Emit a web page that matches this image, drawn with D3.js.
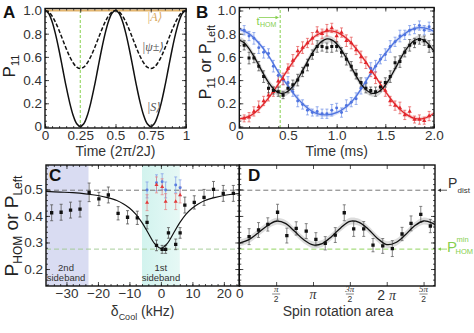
<!DOCTYPE html>
<html><head><meta charset="utf-8">
<script src="https://cdn.jsdelivr.net/npm/d3@7"></script>
<style>
body{margin:0;background:#fff}
svg{display:block}
</style>
</head><body>
<svg id="c" width="474" height="333"></svg>
<script>
// ================= DATA =================
// Panel A : theory curves vs time (2π/2J)
const aTime = [0,0.025,0.05,0.075,0.1,0.125,0.15,0.175,0.2,0.225,0.25,0.275,0.3,0.325,0.35,0.375,0.4,0.425,0.45,0.475,0.5,0.525,0.55,0.575,0.6,0.625,0.65,0.675,0.7,0.725,0.75,0.775,0.8,0.825,0.85,0.875,0.9,0.925,0.95,0.975,1];
const aSinglet = [1,0.976,0.905,0.794,0.655,0.5,0.345,0.206,0.095,0.024,0,0.024,0.095,0.206,0.345,0.5,0.655,0.794,0.905,0.976,1,0.976,0.905,0.794,0.655,0.5,0.345,0.206,0.095,0.024,0,0.024,0.095,0.206,0.345,0.5,0.655,0.794,0.905,0.976,1];
const aPsi = [1,0.988,0.952,0.897,0.827,0.75,0.673,0.603,0.548,0.512,0.5,0.512,0.548,0.603,0.673,0.75,0.827,0.897,0.952,0.988,1,0.988,0.952,0.897,0.827,0.75,0.673,0.603,0.548,0.512,0.5,0.512,0.548,0.603,0.673,0.75,0.827,0.897,0.952,0.988,1];
const aAntiTime = [0,1];
const aAnti = [1,1];
const aMarkTime = 0.25;
const aXTicks = [0,0.25,0.5,0.75,1], aXLabels = ["0","0.25","0.5","0.75","1"];
const aYTicks = [0,0.2,0.4,0.6,0.8,1], aYLabels = ["0","0.2","0.4","0.6","0.8","1.0"];

// Panel B : measured P11 (black), PLeft (red, blue) vs time (ms)
const bTime = [0.05,0.1,0.15,0.2,0.25,0.3,0.35,0.4,0.45,0.5,0.55,0.6,0.65,0.7,0.75,0.8,0.85,0.9,0.95,1.0,1.05,1.1,1.15,1.2,1.25,1.3,1.35,1.4,1.45,1.5,1.55,1.6,1.65,1.7,1.75,1.8,1.85,1.9,1.95];
const bBlack = [0.70,0.59,0.59,0.52,0.43,0.33,0.31,0.30,0.27,0.33,0.36,0.40,0.47,0.53,0.62,0.69,0.69,0.68,0.69,0.69,0.64,0.58,0.52,0.45,0.38,0.33,0.31,0.30,0.34,0.38,0.43,0.55,0.56,0.64,0.70,0.72,0.75,0.74,0.69];
const bRed   = [0.07,0.08,0.13,0.17,0.22,0.27,0.30,0.39,0.41,0.50,0.57,0.65,0.68,0.72,0.76,0.82,0.80,0.83,0.85,0.78,0.81,0.74,0.72,0.66,0.60,0.55,0.47,0.42,0.35,0.31,0.22,0.18,0.16,0.10,0.13,0.06,0.06,0.05,0.09];
const bBlue  = [0.83,0.78,0.76,0.68,0.64,0.63,0.52,0.44,0.40,0.38,0.30,0.22,0.19,0.14,0.12,0.13,0.11,0.11,0.14,0.16,0.12,0.18,0.21,0.24,0.33,0.38,0.50,0.52,0.58,0.62,0.69,0.73,0.78,0.79,0.83,0.84,0.87,0.83,0.86];
const bBlackErr = [0.04,0.05,0.04,0.04,0.05,0.04,0.03,0.04,0.03,0.04,0.04,0.05,0.04,0.05,0.04,0.05,0.04,0.04,0.05,0.04,0.04,0.05,0.04,0.04,0.04,0.04,0.03,0.04,0.04,0.04,0.05,0.05,0.05,0.04,0.05,0.04,0.04,0.04,0.05];
const bRedErr   = [0.03,0.04,0.04,0.05,0.04,0.05,0.04,0.05,0.05,0.04,0.05,0.04,0.05,0.04,0.05,0.04,0.04,0.05,0.04,0.05,0.04,0.05,0.05,0.04,0.05,0.05,0.04,0.05,0.04,0.05,0.04,0.04,0.05,0.04,0.04,0.03,0.04,0.03,0.04];
const bBlueErr  = [0.04,0.04,0.05,0.05,0.05,0.04,0.05,0.05,0.04,0.05,0.04,0.05,0.04,0.04,0.03,0.04,0.04,0.04,0.05,0.04,0.04,0.05,0.04,0.05,0.05,0.04,0.05,0.05,0.04,0.05,0.05,0.04,0.05,0.04,0.04,0.04,0.04,0.04,0.04];
const bFitTimeBlack = [0,0.05,0.1,0.15,0.2,0.25,0.3,0.35,0.4,0.45,0.5,0.55,0.6,0.65,0.7,0.75,0.8,0.85,0.9,0.95,1.0,1.05,1.1,1.15,1.2,1.25,1.3,1.35,1.4,1.45,1.5,1.55,1.6,1.65,1.7,1.75,1.8,1.85,1.9,1.95,2.0];
const bFitBlack = [0.745,0.722,0.671,0.604,0.528,0.45,0.38,0.326,0.293,0.285,0.304,0.346,0.407,0.481,0.559,0.633,0.694,0.736,0.755,0.747,0.714,0.659,0.59,0.512,0.436,0.368,0.318,0.29,0.287,0.31,0.357,0.421,0.497,0.575,0.647,0.704,0.742,0.755,0.742,0.704,0.647];
const bFitTime = [0,0.1,0.2,0.3,0.4,0.5,0.6,0.7,0.8,0.9,1.0,1.1,1.2,1.3,1.4,1.5,1.6,1.7,1.8,1.9,2.0];
const bFitRed  = [0.065,0.087,0.149,0.246,0.365,0.493,0.616,0.719,0.791,0.823,0.813,0.760,0.671,0.556,0.429,0.303,0.193,0.113,0.070,0.070,0.114];
const bFitBlue = [0.84,0.80,0.72,0.61,0.47,0.35,0.24,0.16,0.11,0.10,0.12,0.17,0.26,0.39,0.52,0.63,0.73,0.80,0.845,0.85,0.82];
const bBandHalf = [0.03, 0.018, 0.018]; // black, red, blue confidence band half-widths
const bTHom = 0.42;
const bXTicks = [0,0.5,1,1.5,2], bXLabels = ["0","0.5","1.0","1.5","2.0"];

// Panel C : P_HOM (black) and P_Left (red/blue) vs δCool (kHz)
const cDet = [-34.7,-31.7,-28.7,-25.7,-22.8,-19.7,-16.7,-13.6,-10.6,-7.5,-4.4,-1.4,0.4,1.5,2.4,4.7,6.1,7.6,10.6,13.7,16.7,19.8,23];
const cBlack = [0.412,0.414,0.422,0.426,0.489,0.464,0.479,0.410,0.395,0.393,0.376,0.289,0.274,0.274,0.336,0.293,0.336,0.441,0.451,0.470,0.500,0.485,0.485];
const cBlackErr = [0.03,0.03,0.03,0.03,0.035,0.025,0.03,0.025,0.025,0.025,0.025,0.02,0.015,0.015,0.02,0.02,0.02,0.03,0.025,0.03,0.03,0.03,0.03];
const cDetRB = [-4.4,-1.4,0.4,1.5,4.7,6.1];
const cBlue = [0.498,0.525,0.529,0.498,0.517,0.506];
const cRed  = [0.450,0.517,0.510,0.454,0.454,0.479];
const cRBErr = [0.03,0.03,0.03,0.03,0.03,0.03];
const cFitDet = [-36.5,-32,-28,-24,-20,-17,-14,-12,-10,-8,-6,-4,-2,0,2,4,6,8,10,12,14,17,20,24.9];
const cFit = [0.4926,0.490,0.4876,0.4835,0.477,0.469,0.458,0.446,0.430,0.407,0.375,0.335,0.296,0.278,0.296,0.335,0.375,0.407,0.430,0.446,0.458,0.469,0.477,0.4845];
const cPdist = 0.497, cPhomMin = 0.275;
const cSideband2 = [-36.5,-23], cSideband1 = [-6,6];
const cXTicks = [-30,-20,-10,0,10,20], cXLabels = ["\u221230","\u221220","\u221210","0","10","20"];
const cYTicks = [0.2,0.3,0.4,0.5], cYLabels = ["0.2","0.3","0.4","0.5"];

// Panel D : P_HOM vs spin rotation area (units of π)
const dArea = [0.133,0.261,0.387,0.519,0.645,0.772,0.908,1.039,1.166,1.302,1.424,1.552,1.688,1.814,1.946,2.076,2.208,2.33,2.462,2.592];
const dVal  = [0.322,0.347,0.368,0.414,0.326,0.353,0.343,0.312,0.297,0.328,0.412,0.351,0.351,0.290,0.287,0.277,0.332,0.372,0.406,0.362];
const dErr  = [0.030,0.028,0.025,0.030,0.028,0.025,0.028,0.025,0.025,0.028,0.030,0.028,0.028,0.025,0.028,0.030,0.025,0.028,0.030,0.025];
const dFitArea = [0,0.125,0.25,0.375,0.5,0.625,0.75,0.875,1.0,1.125,1.25,1.375,1.5,1.625,1.75,1.875,2.0,2.125,2.25,2.375,2.5,2.625,2.655];
const dFit = [0.298,0.310,0.335,0.362,0.380,0.372,0.342,0.310,0.291,0.296,0.322,0.355,0.380,0.376,0.350,0.315,0.292,0.300,0.328,0.362,0.381,0.372,0.367];
const dBandHalf = 0.013;
const dXTicks = [0,0.5,1,1.5,2,2.5];

// ================= DRAWING =================
const FONT = '"Liberation Sans", Arial, Helvetica, sans-serif';
const SERIF = '"Liberation Serif","DejaVu Serif",serif';
const GREEN = "#86cf4e";
const TICKFS = 13.5;
const svg = d3.select("#c");
const defs = svg.append("defs");

function clip(id, x, y){
  const [x0,x1]=x.range(), [y0,y1]=y.range();
  defs.append("clipPath").attr("id",id).append("rect").attr("x",x0).attr("y",y1).attr("width",x1-x0).attr("height",y0-y1);
  return `url(#${id})`;
}

function axes(g, x, y, o){
  const [x0,x1]=x.range(), [y0,y1]=y.range();
  const style = sel => { sel.selectAll(".domain").remove();
    sel.selectAll(".tick line").attr("stroke","#222").attr("stroke-width",0.8);
    sel.selectAll(".tick text").attr("font-size",TICKFS).attr("fill","#333").attr("font-family",FONT);
    sel.attr("font-family",FONT); };
  g.append("g").attr("transform",`translate(0,${y0})`)
    .call(d3.axisBottom(x).tickValues(o.xMaj).tickFormat((d,i)=>o.xLab?o.xLab[i]:"").tickSizeInner(-4).tickSizeOuter(0).tickPadding(2)).call(style);
  g.append("g").attr("transform",`translate(0,${y1})`)
    .call(d3.axisTop(x).tickValues(o.xMaj).tickFormat("").tickSizeInner(-4).tickSizeOuter(0)).call(style);
  if(o.xMin){
    g.append("g").attr("transform",`translate(0,${y0})`).call(d3.axisBottom(x).tickValues(o.xMin).tickFormat("").tickSizeInner(-2).tickSizeOuter(0)).call(style);
    g.append("g").attr("transform",`translate(0,${y1})`).call(d3.axisTop(x).tickValues(o.xMin).tickFormat("").tickSizeInner(-2).tickSizeOuter(0)).call(style);
  }
  g.append("g").attr("transform",`translate(${x0},0)`)
    .call(d3.axisLeft(y).tickValues(o.yMaj).tickFormat((d,i)=>o.yLab?o.yLab[i]:"").tickSizeInner(-4).tickSizeOuter(0).tickPadding(3)).call(style);
  g.append("g").attr("transform",`translate(${x1},0)`)
    .call(d3.axisRight(y).tickValues(o.yMaj).tickFormat("").tickSizeInner(-4).tickSizeOuter(0)).call(style);
  if(o.yMin){
    g.append("g").attr("transform",`translate(${x0},0)`).call(d3.axisLeft(y).tickValues(o.yMin).tickFormat("").tickSizeInner(-2).tickSizeOuter(0)).call(style);
    g.append("g").attr("transform",`translate(${x1},0)`).call(d3.axisRight(y).tickValues(o.yMin).tickFormat("").tickSizeInner(-2).tickSizeOuter(0)).call(style);
  }
}
function frame(g, x, y){
  const [x0,x1]=x.range(), [y0,y1]=y.range();
  g.append("rect").attr("x",x0).attr("y",y1).attr("width",x1-x0).attr("height",y0-y1)
    .attr("fill","none").attr("stroke","#111").attr("stroke-width",1.4);
}
function errorBars(g, xs, ys, es, x, y, color, w){
  const idx = d3.range(xs.length);
  const eg = g.append("g").attr("stroke",color).attr("stroke-width",w||0.8);
  eg.selectAll("line.v").data(idx).join("line").attr("class","v")
    .attr("x1",i=>x(xs[i])).attr("x2",i=>x(xs[i])).attr("y1",i=>y(ys[i]+es[i])).attr("y2",i=>y(ys[i]-es[i]));
  eg.selectAll("line.t").data(idx).join("line").attr("class","t")
    .attr("x1",i=>x(xs[i])-1.5).attr("x2",i=>x(xs[i])+1.5).attr("y1",i=>y(ys[i]+es[i])).attr("y2",i=>y(ys[i]+es[i]));
  eg.selectAll("line.b").data(idx).join("line").attr("class","b")
    .attr("x1",i=>x(xs[i])-1.5).attr("x2",i=>x(xs[i])+1.5).attr("y1",i=>y(ys[i]-es[i])).attr("y2",i=>y(ys[i]-es[i]));
}
function markers(g, xs, ys, x, y, type, size, color){
  g.append("g").selectAll("path").data(d3.range(xs.length)).join("path")
    .attr("d", d3.symbol(type, size)).attr("fill",color)
    .attr("transform", i=>`translate(${x(xs[i])},${y(ys[i])})`);
}
function lineXY(xs, ys, x, y, curve){
  return d3.line().x(i=>x(xs[i])).y(i=>y(ys[i])).curve(curve||d3.curveCatmullRom)(d3.range(xs.length));
}
function bandXY(xs, ys, h, x, y){
  return d3.area().x(i=>x(xs[i])).y0(i=>y(ys[i]-h)).y1(i=>y(ys[i]+h)).curve(d3.curveCatmullRom)(d3.range(xs.length));
}
function panelLetter(t, px, py){
  svg.append("text").attr("x",px).attr("y",py).text(t).attr("font-family",FONT)
    .attr("font-weight","bold").attr("font-size",17).attr("fill","#111");
}
function ylab(px, py, parts){
  const t = svg.append("text").attr("transform",`translate(${px},${py}) rotate(-90)`)
    .attr("text-anchor","middle").attr("font-family",FONT).attr("fill","#222");
  parts.forEach(p=>{ t.append("tspan").text(p[0]).attr("font-size",p[1]).attr("dy",p[2]||0); });
  return t;
}

// ---------- Panel A ----------
{
  const x = d3.scaleLinear().domain([0,1]).range([45,186]);
  const y = d3.scaleLinear().domain([-0.013,1.017]).range([128,8.5]);
  const g = svg.append("g");
  const cp = clip("clipA", x, y);
  const pg = g.append("g").attr("clip-path",cp);
  pg.append("line").attr("x1",x(aMarkTime)).attr("x2",x(aMarkTime)).attr("y1",y.range()[0]).attr("y2",y.range()[1])
    .attr("stroke",GREEN).attr("stroke-width",1).attr("stroke-dasharray","3,2");
  pg.append("path").attr("d",lineXY(aAntiTime,aAnti,x,y,d3.curveLinear)).attr("fill","none").attr("stroke","#e3b56e").attr("stroke-width",2);
  pg.append("path").attr("d",lineXY(aTime,aPsi,x,y)).attr("fill","none").attr("stroke","#111").attr("stroke-width",1.5).attr("stroke-dasharray","4,2");
  pg.append("path").attr("d",lineXY(aTime,aSinglet,x,y)).attr("fill","none").attr("stroke","#111").attr("stroke-width",1.5);
  axes(g, x, y, {xMaj:aXTicks, xLab:aXLabels, xMin:d3.range(0,1.001,0.05), yMaj:aYTicks, yLab:aYLabels, yMin:d3.range(0,1.001,0.05)});
  frame(g, x, y);
  g.append("text").attr("x",147).attr("y",21).text("|A\u27E9").attr("font-family",SERIF).attr("font-style","italic").attr("font-size",12).attr("fill","#d8a860");
  g.append("text").attr("x",142).attr("y",51).text("|\u03C8\u00B1\u27E9").attr("font-family",SERIF).attr("font-style","italic").attr("font-size",12).attr("fill","#555");
  g.append("text").attr("x",147).attr("y",111).text("|S\u27E9").attr("font-family",SERIF).attr("font-style","italic").attr("font-size",12).attr("fill","#555");
  g.append("text").attr("x",(x.range()[0]+x.range()[1])/2).attr("y",156).attr("text-anchor","middle")
    .attr("font-family",FONT).attr("font-size",14).attr("fill","#333").text("Time (2\u03C0/2J)");
  ylab(15, 66, [["P",17],["11",11,4]]);
  panelLetter("A", 3, 18);
}

// ---------- Panel B ----------
{
  const x = d3.scaleLinear().domain([0,2]).range([239.3,434]);
  const y = d3.scaleLinear().domain([-0.013,1.026]).range([128,7.5]);
  const g = svg.append("g");
  const cp = clip("clipB", x, y);
  const pg = g.append("g").attr("clip-path",cp);
  pg.append("path").attr("d",bandXY(bFitTime,bFitRed,bBandHalf[1],x,y)).attr("fill","#f2b7b7").attr("opacity",0.6);
  pg.append("path").attr("d",bandXY(bFitTime,bFitBlue,bBandHalf[2],x,y)).attr("fill","#b9c7f2").attr("opacity",0.6);
  pg.append("path").attr("d",bandXY(bFitTimeBlack,bFitBlack,bBandHalf[0],x,y)).attr("fill","#d4d4d4").attr("opacity",0.9);
  pg.append("line").attr("x1",x(bTHom)).attr("x2",x(bTHom)).attr("y1",y.range()[0]).attr("y2",y.range()[1])
    .attr("stroke",GREEN).attr("stroke-width",1).attr("stroke-dasharray","3,2");
  errorBars(pg, bTime, bBlue, bBlueErr, x, y, "#6f8fe6", 0.7);
  errorBars(pg, bTime, bRed, bRedErr, x, y, "#e55050", 0.7);
  errorBars(pg, bTime, bBlack, bBlackErr, x, y, "#444", 0.7);
  pg.append("path").attr("d",lineXY(bFitTime,bFitBlue,x,y)).attr("fill","none").attr("stroke","#4f74e0").attr("stroke-width",1.3);
  pg.append("path").attr("d",lineXY(bFitTime,bFitRed,x,y)).attr("fill","none").attr("stroke","#e2262b").attr("stroke-width",1.3);
  pg.append("path").attr("d",lineXY(bFitTimeBlack,bFitBlack,x,y)).attr("fill","none").attr("stroke","#111").attr("stroke-width",1.3);
  markers(pg, bTime, bBlue, x, y, d3.symbolCircle, 7, "#4f74e0");
  markers(pg, bTime, bRed, x, y, d3.symbolTriangle, 8, "#e2262b");
  markers(pg, bTime, bBlack, x, y, d3.symbolSquare, 9, "#111");
  axes(g, x, y, {xMaj:bXTicks, xLab:bXLabels, xMin:d3.range(0,2.001,0.1), yMaj:aYTicks, yLab:aYLabels, yMin:d3.range(0,1.001,0.05)});
  frame(g, x, y);
  // t_HOM annotation
  g.append("text").attr("x",256.5).attr("y",25).text("t").attr("font-family",FONT).attr("font-size",11).attr("fill",GREEN);
  g.append("text").attr("x",260).attr("y",27).text("HOM").attr("font-family",FONT).attr("font-size",7).attr("fill",GREEN);
  g.append("line").attr("x1",259).attr("x2",278).attr("y1",17.5).attr("y2",17.5).attr("stroke",GREEN).attr("stroke-width",0.8);
  g.append("path").attr("d","M275.5,15.8 L279,17.5 L275.5,19.2 Z").attr("fill",GREEN);
  g.append("text").attr("x",(x.range()[0]+x.range()[1])/2).attr("y",156).attr("text-anchor","middle")
    .attr("font-family",FONT).attr("font-size",14).attr("fill","#333").text("Time (ms)");
  ylab(211, 62, [["P",16],["11",11,4],[" or P",16,-4],["Left",11,4]]);
  panelLetter("B", 196, 18);
}

// ---------- Panel C & D shared y ----------
const yCD = d3.scaleLinear().domain([0.136,0.592]).range([286,165]);

// ---------- Panel C ----------
{
  const x = d3.scaleLinear().domain([-36.5,24.9]).range([46,239.3]);
  const y = yCD;
  const g = svg.append("g");
  const cp = clip("clipC", x, y);
  const pg = g.append("g").attr("clip-path",cp);
  const grad = defs.append("linearGradient").attr("id","cyanG").attr("x1","0").attr("x2","1").attr("y1","0").attr("y2","0");
  grad.append("stop").attr("offset","0").attr("stop-color","#d2f3ee");
  grad.append("stop").attr("offset","0.5").attr("stop-color","#dcf6f2");
  grad.append("stop").attr("offset","1").attr("stop-color","#e6f8f5");
  pg.append("rect").attr("x",x(cSideband2[0])).attr("width",x(cSideband2[1])-x(cSideband2[0]))
    .attr("y",y.range()[1]).attr("height",y.range()[0]-y.range()[1]).attr("fill","#d9dcf2");
  pg.append("rect").attr("x",x(cSideband1[0])).attr("width",x(cSideband1[1])-x(cSideband1[0]))
    .attr("y",y.range()[1]).attr("height",y.range()[0]-y.range()[1]).attr("fill","url(#cyanG)");
  pg.append("line").attr("x1",x.range()[0]).attr("x2",x.range()[1]).attr("y1",y(cPdist)).attr("y2",y(cPdist))
    .attr("stroke","#666").attr("stroke-width",0.9).attr("stroke-dasharray","5,3");
  pg.append("line").attr("x1",x.range()[0]).attr("x2",x.range()[1]).attr("y1",y(cPhomMin)).attr("y2",y(cPhomMin))
    .attr("stroke","#9fc890").attr("stroke-width",0.9).attr("stroke-dasharray","5,3");
  errorBars(pg, cDetRB, cBlue, cRBErr, x, y, "#7c9ae8", 0.7);
  errorBars(pg, cDetRB, cRed, cRBErr, x, y, "#e88080", 0.7);
  errorBars(pg, cDet, cBlack, cBlackErr, x, y, "#555", 0.8);
  pg.append("path").attr("d",lineXY(cFitDet,cFit,x,y)).attr("fill","none").attr("stroke","#111").attr("stroke-width",1.2);
  markers(pg, cDetRB, cBlue, x, y, d3.symbolCircle, 7, "#5a7fe0");
  markers(pg, cDetRB, cRed, x, y, d3.symbolTriangle, 7, "#e23a3a");
  markers(pg, cDet, cBlack, x, y, d3.symbolSquare, 11, "#111");
  axes(g, x, y, {xMaj:cXTicks, xLab:cXLabels, xMin:d3.range(-36,25,2), yMaj:cYTicks, yLab:cYLabels, yMin:d3.range(0.14,0.59,0.02)});
  frame(g, x, y);
  const sb = (cx, a) => {
    g.append("text").attr("x",cx).attr("y",271).attr("text-anchor","middle").attr("font-family",FONT).attr("font-size",9.5).attr("fill","#333").text(a);
    g.append("text").attr("x",cx).attr("y",281).attr("text-anchor","middle").attr("font-family",FONT).attr("font-size",9.5).attr("fill","#333").text("sideband");
  };
  sb(66, "2nd"); sb(x(0), "1st");
  const t = g.append("text").attr("x",(x.range()[0]+x.range()[1])/2).attr("y",316).attr("text-anchor","middle")
    .attr("font-family",FONT).attr("fill","#333");
  t.append("tspan").text("\u03B4").attr("font-size",14);
  t.append("tspan").text("Cool").attr("font-size",9).attr("dy",4);
  t.append("tspan").text(" (kHz)").attr("font-size",14).attr("dy",-4);
  ylab(18, 226, [["P",19],["HOM",12,4],[" or P",19,-4],["Left",12,4]]);
  panelLetter("C", 49, 181);
}

// ---------- Panel D ----------
{
  const x = d3.scaleLinear().domain([0,2.655]).range([239.3,435]);
  const y = yCD;
  const g = svg.append("g");
  const cp = clip("clipD", x, y);
  const pg = g.append("g").attr("clip-path",cp);
  pg.append("line").attr("x1",x.range()[0]).attr("x2",x.range()[1]).attr("y1",y(cPdist)).attr("y2",y(cPdist))
    .attr("stroke","#666").attr("stroke-width",0.9).attr("stroke-dasharray","5,3");
  pg.append("line").attr("x1",x.range()[0]).attr("x2",x.range()[1]).attr("y1",y(cPhomMin)).attr("y2",y(cPhomMin))
    .attr("stroke",GREEN).attr("stroke-width",0.9).attr("stroke-dasharray","5,3");
  pg.append("path").attr("d",bandXY(dFitArea,dFit,dBandHalf,x,y)).attr("fill","#d8d8d8").attr("opacity",0.9);
  errorBars(pg, dArea, dVal, dErr, x, y, "#666", 0.8);
  pg.append("path").attr("d",lineXY(dFitArea,dFit,x,y)).attr("fill","none").attr("stroke","#111").attr("stroke-width",1.3);
  markers(pg, dArea, dVal, x, y, d3.symbolSquare, 11, "#111");
  axes(g, x, y, {xMaj:dXTicks, xLab:["0","","","","",""], yMaj:cYTicks, yMin:d3.range(0.14,0.59,0.02)});
  frame(g, x, y);
  // fraction tick labels
  const frac = (v, num) => {
    const cx = x(v);
    g.append("text").attr("x",cx).attr("y",292).attr("text-anchor","middle").attr("font-family",SERIF).attr("font-style","italic").attr("font-size",9).attr("fill","#333").text(num);
    g.append("line").attr("x1",cx-4).attr("x2",cx+4).attr("y1",294).attr("y2",294).attr("stroke","#333").attr("stroke-width",0.6);
    g.append("text").attr("x",cx).attr("y",301.5).attr("text-anchor","middle").attr("font-family",FONT).attr("font-size",8.5).attr("fill","#333").text("2");
  };
  frac(0.5,"\u03C0"); frac(1.5,"3\u03C0"); frac(2.5,"5\u03C0");
  g.append("text").attr("x",x(1)).attr("y",299).attr("text-anchor","middle").attr("font-family",SERIF).attr("font-style","italic").attr("font-size",14).attr("fill","#333").text("\u03C0");
  const tp = g.append("text").attr("x",x(2)).attr("y",300).attr("text-anchor","middle").attr("font-size",14).attr("fill","#333");
  tp.append("tspan").text("2 ").attr("font-family",FONT);
  tp.append("tspan").text("\u03C0").attr("font-family",SERIF).attr("font-style","italic");
  g.append("text").attr("x",338).attr("y",316).attr("text-anchor","middle")
    .attr("font-family",FONT).attr("font-size",14).attr("fill","#333").text("Spin rotation area");
  // right-side annotations
  const arrow = (yy, col) => {
    g.append("line").attr("x1",440).attr("x2",447).attr("y1",yy).attr("y2",yy).attr("stroke",col).attr("stroke-width",0.8);
    g.append("path").attr("d",`M437.5,${yy} L441,${yy-1.7} L441,${yy+1.7} Z`).attr("fill",col);
  };
  arrow(y(cPdist), "#333");
  arrow(y(cPhomMin), GREEN);
  g.append("text").attr("x",448).attr("y",188).attr("font-family",FONT).attr("font-size",14).attr("fill","#333").text("P");
  g.append("text").attr("x",457.5).attr("y",192.5).attr("font-family",FONT).attr("font-size",8).attr("fill","#333").text("dist");
  g.append("text").attr("x",447).attr("y",252).attr("font-family",FONT).attr("font-size",15).attr("fill",GREEN).text("P");
  g.append("text").attr("x",456.5).attr("y",242).attr("font-family",FONT).attr("font-size",7.5).attr("fill",GREEN).text("min");
  g.append("text").attr("x",455.5).attr("y",253.5).attr("font-family",FONT).attr("font-size",7.5).attr("fill",GREEN).text("HOM");
  panelLetter("D", 248, 181);
}
</script>
</body></html>
